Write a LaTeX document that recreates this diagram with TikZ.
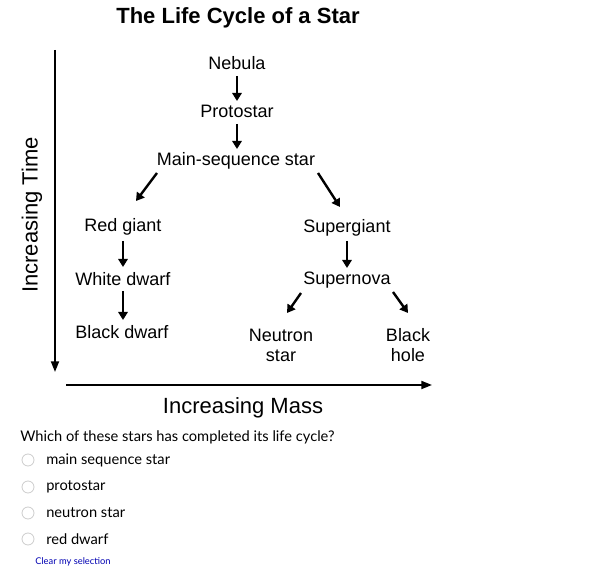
\documentclass[tikz,border=0pt]{standalone}
\usepackage{fontspec}
\setmainfont{Liberation Sans}
\newfontfamily\qfont{Lato}
\usetikzlibrary{arrows.meta}
\begin{document}
\begin{tikzpicture}[x=0.75pt,y=-0.75pt,
  lab/.style={font=\fontsize{13.5}{15}\selectfont,inner sep=1pt,align=center},
  st/.style={-{Triangle[length=6pt,width=7pt]},line width=1.8pt,shorten >=0pt},
  ax/.style={-{Triangle[length=8pt,width=6pt]},line width=1.4pt},
  q/.style={font=\qfont\fontsize{11}{13}\selectfont,anchor=west,inner sep=0pt},
  rad/.style={circle,draw=gray!40,line width=0.6pt,minimum size=9pt,inner sep=0pt}]
\useasboundingbox (0,0) rectangle (611,580);
\node[font=\bfseries\fontsize{16.5}{19}\selectfont] (title) at (238,18) {The Life Cycle of a Star};
\node[lab] (neb) at (237,63) {Nebula};
\node[lab] (pro) at (237,111) {Protostar};
\node[lab] (ms) at (236,161) {Main-sequence star};
\node[lab] (rg) at (123,227) {Red giant};
\node[lab] (sg) at (347,228) {Supergiant};
\node[lab] (wd) at (123,279) {White dwarf};
\node[lab] (sn) at (347,280) {Supernova};
\node[lab] (bd) at (122,332) {Black dwarf};
\node[lab] (ns) at (281,345) {Neutron\\star};
\node[lab] (bh) at (408,345) {Black\\hole};
\coordinate (a1) at (237,76); \coordinate (a2) at (237,101);
\coordinate (b1) at (237,124); \coordinate (b2) at (237,149);
\coordinate (c1) at (157,173); \coordinate (c2) at (136,201);
\coordinate (d1) at (318,173); \coordinate (d2) at (340,207);
\coordinate (e1) at (123,241); \coordinate (e2) at (123,267);
\coordinate (f1) at (347,241); \coordinate (f2) at (347,268);
\coordinate (g1) at (123,291); \coordinate (g2) at (123,320);
\coordinate (h1) at (301,293); \coordinate (h2) at (287,313);
\coordinate (i1) at (393,292); \coordinate (i2) at (408,313);
\draw[st] (a1)--(a2); \draw[st] (b1)--(b2); \draw[st] (c1)--(c2); \draw[st] (d1)--(d2);
\draw[st] (e1)--(e2); \draw[st] (f1)--(f2); \draw[st] (g1)--(g2); \draw[st] (h1)--(h2); \draw[st] (i1)--(i2);
\coordinate (t1) at (55,50); \coordinate (t2) at (55,372);
\draw[ax] (t1)--(t2);
\node[lab,rotate=90,font=\fontsize{16.5}{18}\selectfont] (time) at (32,215) {Increasing Time};
\coordinate (m1) at (66,385); \coordinate (m2) at (432,385);
\draw[ax] (m1)--(m2);
\node[lab,font=\fontsize{16.5}{18}\selectfont] (mass) at (243,408) {Increasing Mass};
\node[q] (qq) at (20,437) {Which of these stars has completed its life cycle?};
\foreach \y/\t/\n in {460/main sequence star/r1,487/protostar/r2,513/neutron star/r3,539/red dwarf/r4}{
  \node[rad] (\n) at (28,\y) {};
  \node[q] (\n t) at (46,\y) {\t};
}
\node[q,font=\qfont\fontsize{7}{8}\selectfont,text=blue!70!black] (clr) at (35,562) {Clear my selection};
\end{tikzpicture}
\end{document}
